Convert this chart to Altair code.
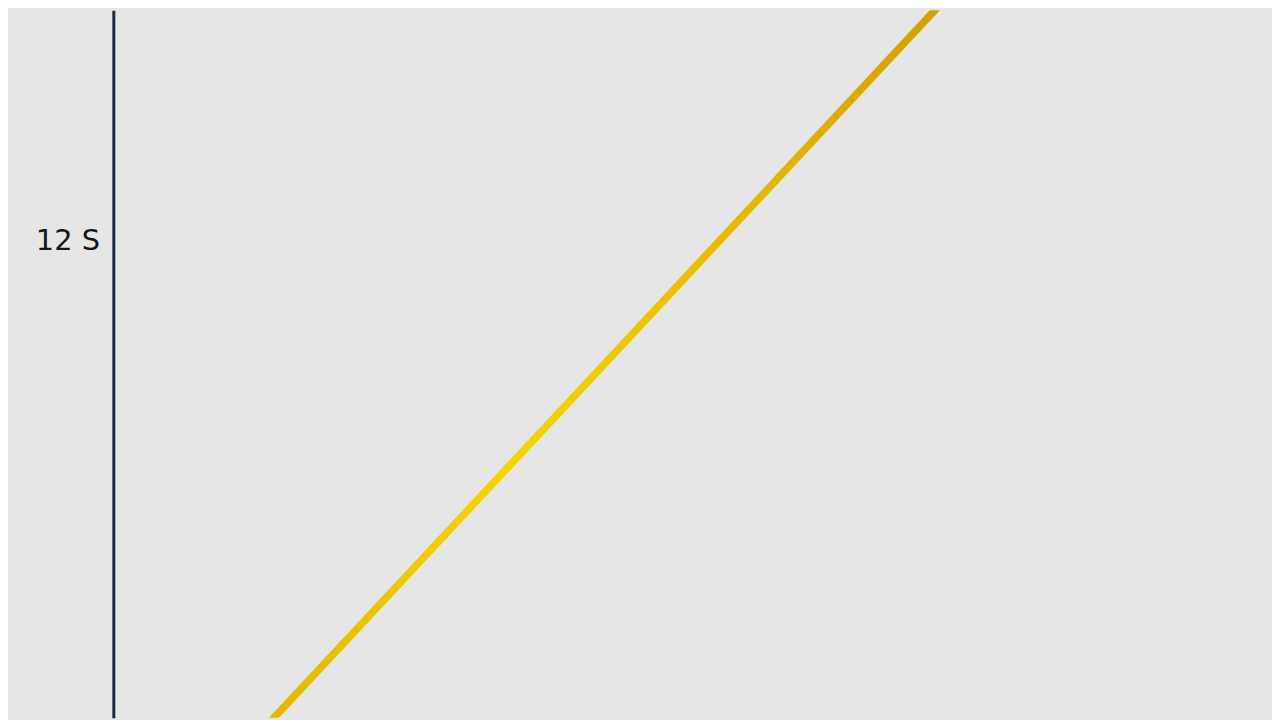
import altair as alt
import pandas as pd

# data
x_vals = [12, 74]
y_vals = [9.25, 14.25]
tick_values = [12.5]
tick_labels = ["12 S"]

df = pd.DataFrame({"x": x_vals, "y": y_vals})

label_expr = "datum.value == 12.5 ? '" + tick_labels[0] + "' : ''"

line = alt.Chart(df).mark_line(
    clip=True,
    strokeWidth=7.5,
    strokeCap="butt",
    color=alt.Gradient(
        gradient="linear",
        stops=[
            alt.GradientStop(color="#e4b400", offset=0),
            alt.GradientStop(color="#f5d600", offset=0.35),
            alt.GradientStop(color="#e6b800", offset=0.7),
            alt.GradientStop(color="#d09c00", offset=1),
        ],
        x1=0, y1=1, x2=1, y2=0,
    ),
).encode(
    x=alt.X("x:Q", scale=alt.Scale(domain=[0, 100], nice=False, zero=False), axis=None),
    y=alt.Y(
        "y:Q",
        scale=alt.Scale(domain=[9.4, 14], nice=False, zero=False),
        axis=alt.Axis(
            values=tick_values,
            labelExpr=label_expr,
            ticks=False,
            grid=False,
            title=None,
            domainColor="#1e2a44",
            domainWidth=3,
            labelFontSize=29,
            labelFont="DejaVu Sans",
            labelColor="#151515",
            labelPadding=14,
        ),
    ),
)

chart = line.properties(
    width=1166,
    height=712,
    autosize=alt.AutoSizeParams(type="none"),
    padding={"left": 106, "top": 0, "right": 0, "bottom": 0},
    background="#e6e6e6",
).configure_view(stroke=None, fill="#e6e6e6")

chart.save("out.html", embed_options={"renderer": "svg", "actions": False})
